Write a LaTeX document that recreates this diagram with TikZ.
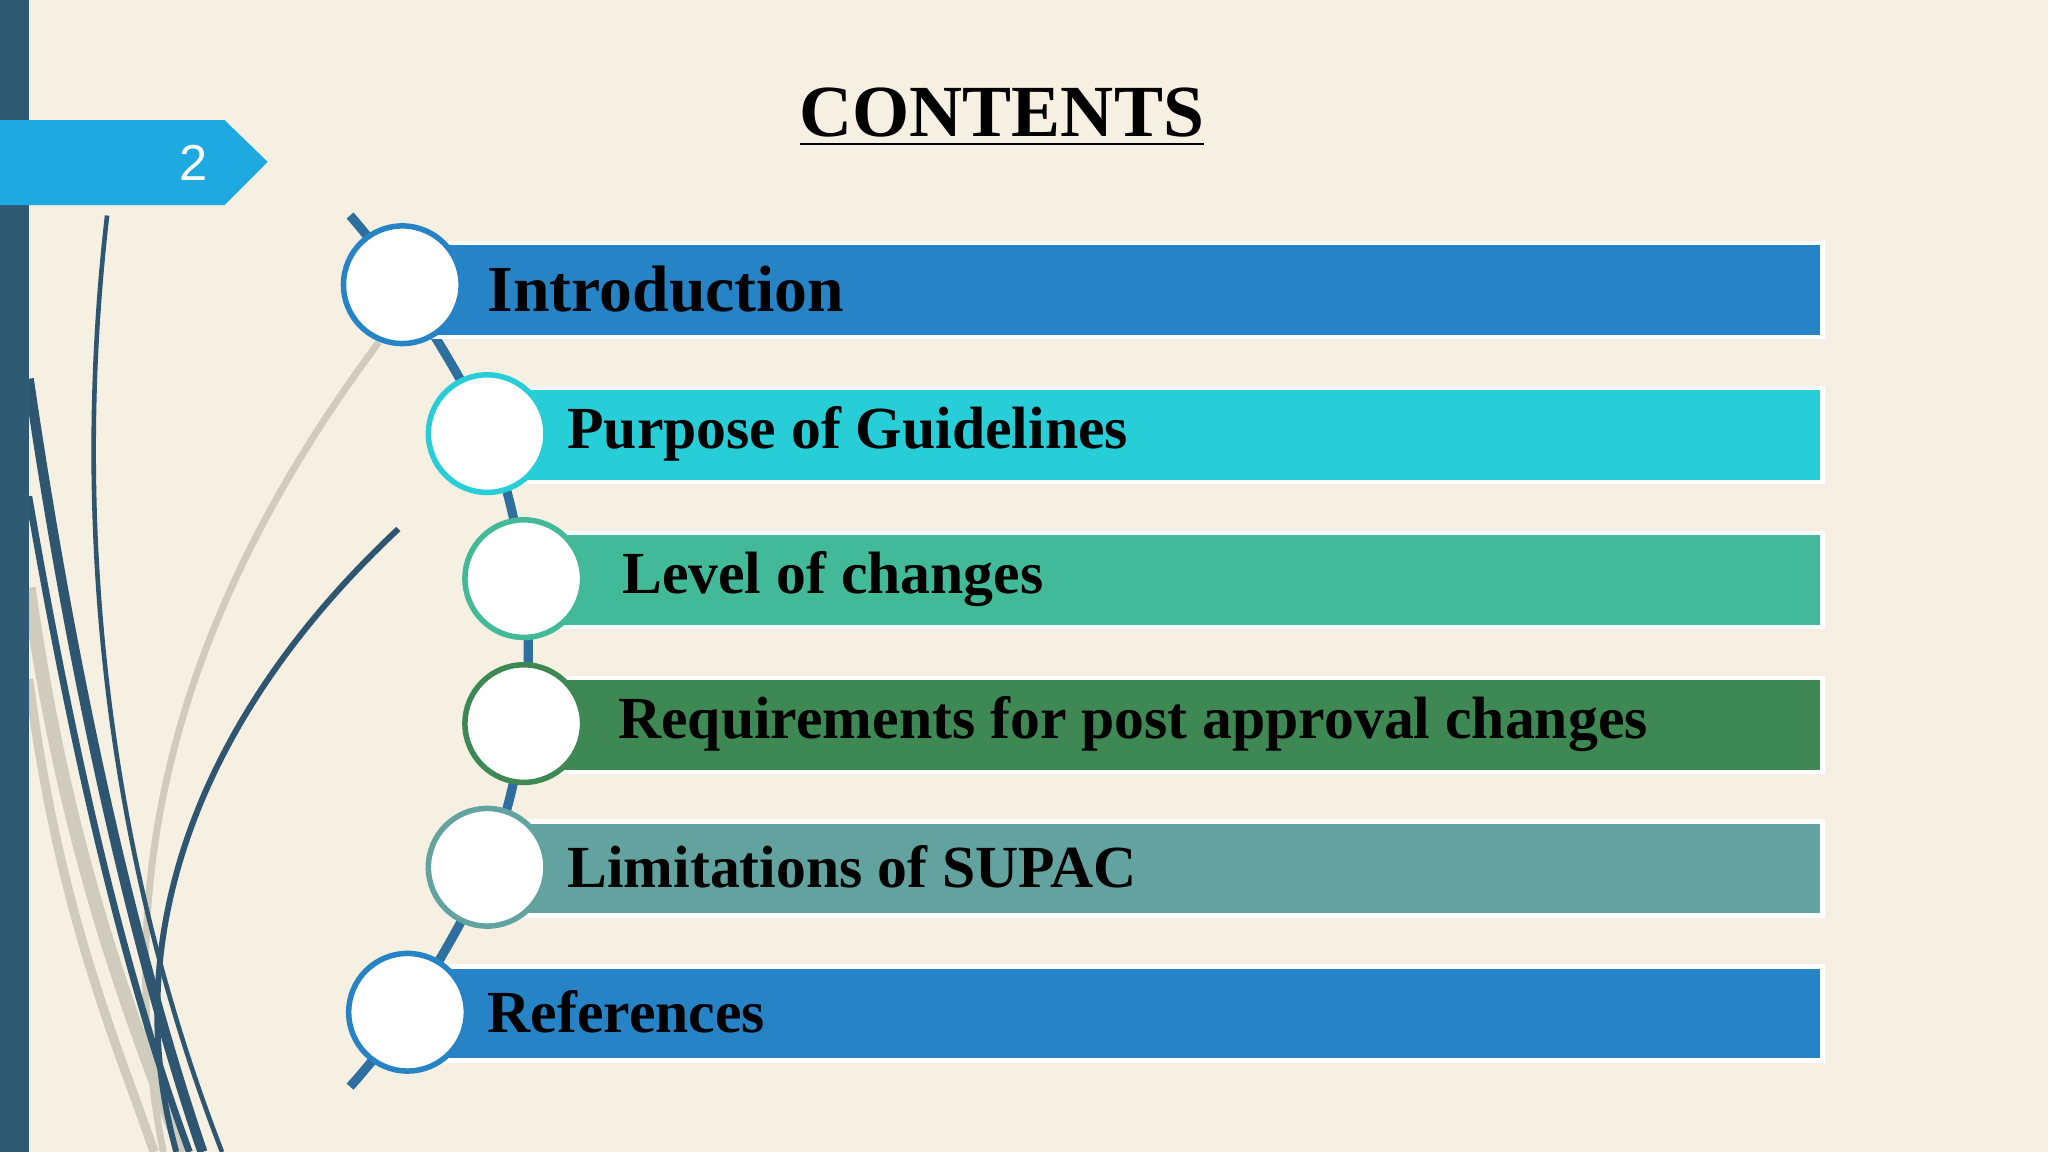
\documentclass[tikz,border=0pt]{standalone}
\usepackage{fontspec}
\setmainfont{Liberation Serif}
\newfontfamily\sansf{Liberation Sans}
\definecolor{bg}{HTML}{F5F0E1}
\definecolor{lbar}{HTML}{2F5A73}
\definecolor{tab}{HTML}{1FA9E1}
\definecolor{cA}{HTML}{2683C6}
\definecolor{cB}{HTML}{27CED7}
\definecolor{cC}{HTML}{42BA97}
\definecolor{cD}{HTML}{3E8853}
\definecolor{cE}{HTML}{62A39F}
\definecolor{arcc}{HTML}{2F6F9F}
\definecolor{dcurve}{HTML}{2E5670}
\definecolor{gcurve}{HTML}{CFCCBE}
\begin{document}
\begin{tikzpicture}[x=0.01cm,y=-0.01cm,
  barbox/.style={draw=white,line width=1pt,minimum height=0.72cm,inner sep=0pt,anchor=west},
  circ/.style={circle,fill=white,line width=1.2pt,minimum size=0.9cm,inner sep=0pt},
  lab/.style={anchor=west,font=\bfseries\fontsize{13pt}{15pt}\selectfont,text=black}]
\fill[bg] (0,0) rectangle (1568,882);
\useasboundingbox (0,0) rectangle (1568,882);
% decorative curves
\draw[gcurve,line width=1.5pt] (290,262) .. controls (150,450) and (80,650) .. (125,882);
\draw[gcurve,line width=3pt] (22,450) .. controls (50,650) and (100,780) .. (140,882);
\draw[gcurve,line width=2pt] (22,520) .. controls (45,700) and (90,800) .. (118,882);
\draw[dcurve,line width=1pt] (82,165) .. controls (55,400) and (80,650) .. (170,882);
\draw[dcurve,line width=2.2pt] (22,290) .. controls (60,550) and (110,750) .. (155,882);
\draw[dcurve,line width=1.5pt] (22,380) .. controls (60,600) and (100,760) .. (145,882);
\draw[dcurve,line width=1.3pt] (305,405) .. controls (150,550) and (90,720) .. (135,882);
\fill[lbar] (0,0) rectangle (22,882);
% tab
\fill[tab] (0,92) -- (172,92) -- (205,124) -- (172,157) -- (0,157) -- cycle;
\node[text=white,font=\sansf\fontsize{11pt}{12pt}\selectfont] (num) at (148,125) {2};
% title
\node[font=\bfseries\fontsize{16pt}{18pt}\selectfont] (title) at (767,90) {\underline{CONTENTS}};
% arc
\draw[arcc,line width=2pt] plot[smooth,tension=0.6] coordinates {(268,165) (308,218) (373,332) (401,443) (401,554) (373,664) (312,775) (268,832)};
% bars
\node[barbox,fill=cA,minimum width=10.85cm] (b1) at (308,222) {};
\node[barbox,fill=cB,minimum width=10.20cm] (b2) at (373,333) {};
\node[barbox,fill=cC,minimum width=9.92cm] (b3) at (401,444) {};
\node[barbox,fill=cD,minimum width=9.92cm] (b4) at (401,555) {};
\node[barbox,fill=cE,minimum width=10.20cm] (b5) at (373,665) {};
\node[barbox,fill=cA,minimum width=10.81cm] (b6) at (312,776) {};
% circles
\node[circ,draw=cA] (c1) at (308,218) {};
\node[circ,draw=cB] (c2) at (373,332) {};
\node[circ,draw=cC] (c3) at (401,443) {};
\node[circ,draw=cD] (c4) at (401,554) {};
\node[circ,draw=cE] (c5) at (373,664) {};
\node[circ,draw=cA] (c6) at (312,775) {};
% labels
\node[lab,font=\bfseries\fontsize{14.3pt}{16pt}\selectfont] (l1) at (361,221) {Introduction};
\node[lab] (l2) at (422,332) {Purpose of Guidelines};
\node[lab] (l3) at (464,443) {Level of changes};
\node[lab] (l4) at (461,554) {Requirements for post approval changes};
\node[lab] (l5) at (422,664) {Limitations of SUPAC};
\node[lab] (l6) at (361,775) {References};
\end{tikzpicture}
\end{document}
